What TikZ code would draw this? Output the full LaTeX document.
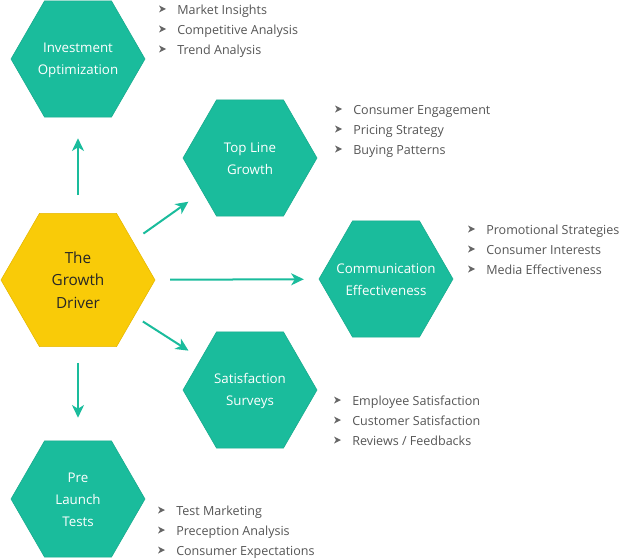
\documentclass[tikz,border=0pt]{standalone}
\usepackage{fontspec}
\setmainfont{Open Sans}
\usetikzlibrary{shapes.geometric,arrows.meta}
\definecolor{tealc}{HTML}{1ABC9C}
\definecolor{tealedge}{HTML}{17A98C}
\definecolor{goldc}{HTML}{F9CB08}
\definecolor{goldedge}{HTML}{E5B700}
\definecolor{txtgray}{HTML}{555555}
\definecolor{bulgray}{HTML}{666666}
\tikzset{
  hexa/.style={regular polygon, regular polygon sides=6, inner sep=0pt,
    minimum size=100.5pt, fill=tealc, draw=tealedge, line width=0.4pt},
  bighexa/.style={hexa, minimum size=115.5pt, fill=goldc, draw=goldedge},
  hextext/.style={text=white, font=\fontsize{10}{16.5}\selectfont, align=center, yshift=-0.75pt},
  drvtext/.style={text=black!85, font=\fontsize{11.5}{17}\selectfont, align=center},
  itemtext/.style={text=txtgray, font=\fontsize{9.4}{12}\selectfont, inner sep=0pt, anchor=base west},
  arr/.style={draw=tealc, line width=1.5pt, -{Stealth[length=9.5pt,width=9pt,inset=2.8pt]}},
}
\newcommand{\bulletlist}[4]{% prefix, text x, first center y, items
  \foreach \t [count=\i] in {#4} {
    \node[itemtext] (#1\i) at (#2, #3+20*\i-20+5.2) {\t};
    \fill[bulgray] (#2-18, #3+20*\i-20-3.5) -- (#2-11, #3+20*\i-20)
      -- (#2-18, #3+20*\i-20+3.5) -- (#2-16, #3+20*\i-20) -- cycle;
  }
}
\begin{document}
\begin{tikzpicture}[x=0.75pt, y=-0.75pt]
\useasboundingbox (0,0) rectangle (621,560);
% hexagons
\node[bighexa, label={[drvtext]center:The\\Growth\\Driver}] (drv) at (78,280) {};
\node[hexa, label={[hextext]center:Investment\\Optimization}] (inv) at (78,59) {};
\node[hexa, label={[hextext]center:Top Line\\Growth}] (top) at (250,158) {};
\node[hexa, label={[hextext]center:Communication\\Effectiveness}] (com) at (386,279) {};
\node[hexa, label={[hextext]center:Satisfaction\\Surveys}] (sat) at (250,390) {};
\node[hexa, label={[hextext]center:Pre\\Launch\\Tests}] (pre) at (78,499) {};
% connectors
\draw[arr, shorten <=13.5pt, shorten >=15.75pt] (drv) -- (inv);
\draw[arr, shorten <=9.75pt, shorten >=12.75pt] (drv) -- (top);
\draw[arr, shorten <=11.25pt, shorten >=11.25pt] (drv) -- (com);
\draw[arr, shorten <=7.5pt, shorten >=11pt] (drv) -- (sat);
\draw[arr, shorten <=12pt, shorten >=17.25pt] (drv) -- (pre);
% lists
\bulletlist{inv-}{177}{9}{Market Insights, Competitive Analysis, Trend Analysis}
\bulletlist{top-}{353}{109}{Consumer Engagement, Pricing Strategy, Buying Patterns}
\bulletlist{com-}{486}{229}{Promotional Strategies, Consumer Interests, Media Effectiveness}
\bulletlist{sat-}{352}{400}{Employee Satisfaction, Customer Satisfaction, Reviews / Feedbacks}
\bulletlist{pre-}{176}{510}{Test Marketing, Preception Analysis, Consumer Expectations}
\end{tikzpicture}
\end{document}
